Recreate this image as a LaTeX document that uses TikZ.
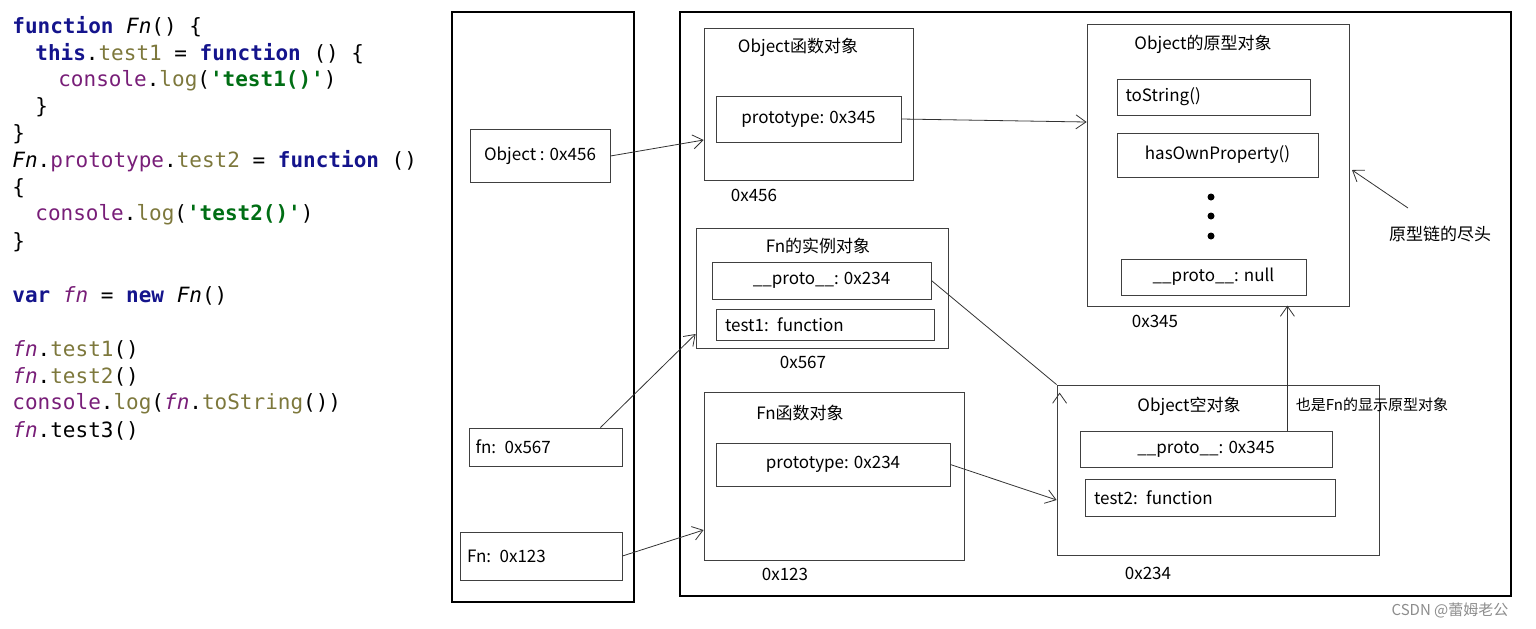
\documentclass[tikz,border=0pt]{standalone}
\usepackage{fontspec}
\setmainfont{Noto Sans CJK SC}
\newfontfamily\codefont{DejaVu Sans Mono}
\usetikzlibrary{arrows.meta}
\definecolor{kwblue}{RGB}{20,20,140}
\definecolor{idpurple}{RGB}{120,30,120}
\definecolor{fnolive}{RGB}{125,120,60}
\definecolor{strgreen}{RGB}{0,110,20}
\newcommand{\kw}[1]{\textcolor{kwblue}{\bfseries #1}}
\newcommand{\pu}[1]{\textcolor{idpurple}{#1}}
\newcommand{\ol}[1]{\textcolor{fnolive}{#1}}
\newcommand{\st}[1]{\textcolor{strgreen}{\bfseries #1}}
\tikzset{%
  every codeline/.style={
    anchor=west,
    inner sep=0pt,
    font=\codefont\fontsize{10.5}{12}\selectfont
  },
  every frame/.style={
    draw,
    line width=1.4pt
  },
  every obj/.style={
    draw=black!75,
    inner sep=0pt,
    font=\fontsize{8.5}{10}\selectfont
  },
  every label/.style={
    font=\fontsize{8.5}{10}\selectfont
  },
  ptr/.style={
    -{Straight Barb[length=5pt,width=7pt]},
    black!80
  },
}

\begin{document}
\begin{tikzpicture}[x=0.5pt, y=-0.5pt]
\useasboundingbox (0,0) rectangle (1536,628);

% Code
\foreach \t [count=\y] in {%
  {\kw{function} \textit{Fn}() \{},
  {\hspace{2ex}\kw{this}.\ol{test1} = \kw{function} () \{},
  {\hspace{4ex}\pu{console}.\ol{log}(\st{'test1()'})},
  {\hspace{2ex}\}},
  {\}},
  {\textit{Fn}.\pu{prototype}.\ol{test2} = \kw{function} ()},
  {\{},
  {\hspace{2ex}\pu{console}.\ol{log}(\st{'test2()'})},
  {\}},
  {},
  {\kw{var} \pu{\textit{fn}} = \kw{new} \textit{Fn}()},
  {},
  {\pu{\textit{fn}}.\ol{test1}()},
  {\pu{\textit{fn}}.\ol{test2}()},
  {\pu{console}.\ol{log}(\pu{\textit{fn}}.\ol{toString}())},
  {\pu{\textit{fn}}.test3()}}
  \node [every codeline/.try] (code-\y) at (12,\y*26.9) {\t};

% Frames
\draw [every frame/.try] (452,12) rectangle (634,602);
\draw [every frame/.try] (680,12) rectangle (1511,596);

% Stack variables
\node [every obj/.try, minimum width=70pt, minimum height=26.5pt] (var-obj) at (540,156) {Object : 0x456};
\node [every obj/.try, minimum width=76.5pt, minimum height=19pt, text width=70pt] (var-fn) at (545.5,447) {fn: 0x567};
\node [every obj/.try, minimum width=81pt, minimum height=24pt, text width=74pt] (var-Fn) at (541,556) {Fn: 0x123};

% Object function object
\node [every obj/.try, minimum width=104.5pt, minimum height=76pt] (obj-fun) at (808.5,104) {};
\node [every label/.try] at (798,47) {Object函数对象};
\node [every obj/.try, minimum width=92.5pt, minimum height=23pt] (obj-fun-p) at (808.5,119) {prototype: 0x345};
\node [every label/.try] at (754,195) {0x456};

% Fn instance
\node [every obj/.try, minimum width=126pt, minimum height=60pt] (inst) at (822,288) {};
\node [every label/.try] at (818,246) {Fn的实例对象};
\node [every obj/.try, minimum width=109.5pt, minimum height=18.5pt] (inst-p) at (821.5,280.5) {\_\_proto\_\_: 0x234};
\node [every obj/.try, minimum width=109pt, minimum height=15.5pt, text width=100pt] (inst-t) at (825,324.5) {test1: function};
\node [every label/.try] at (803,362) {0x567};

% Fn function object
\node [every obj/.try, minimum width=130pt, minimum height=84pt] (Fn-fun) at (834,476) {};
\node [every label/.try] at (800,413) {Fn函数对象};
\node [every obj/.try, minimum width=117pt, minimum height=21.5pt] (Fn-fun-p) at (833,464.5) {prototype: 0x234};
\node [every label/.try] at (785,574) {0x123};

% Object prototype object
\node [every obj/.try, minimum width=131pt, minimum height=141pt] (obj-pro) at (1218,165) {};
\node [every label/.try] at (1203,44) {Object的原型对象};
\node [every obj/.try, minimum width=96.5pt, minimum height=18pt, text width=88pt] (obj-pro-s) at (1213.5,97) {toString()};
\node [every obj/.try, minimum width=100.5pt, minimum height=22pt] (obj-pro-h) at (1217.5,155) {hasOwnProperty()};
\foreach \d in {197,216,236}
  \fill (1211,\d) circle (3.5);
\node [every obj/.try, minimum width=92.5pt, minimum height=18pt] (obj-pro-n) at (1213.5,277) {\_\_proto\_\_: null};
\node [every label/.try] at (1155,321) {0x345};

% Object empty object
\node [every obj/.try, minimum width=161pt, minimum height=85pt] (obj-emp) at (1218,470) {};
\node [every label/.try] at (1189,406) {Object空对象};
\node [every obj/.try, minimum width=126pt, minimum height=18pt] (obj-emp-p) at (1206,449) {\_\_proto\_\_: 0x345};
\node [every obj/.try, minimum width=125pt, minimum height=18.5pt, text width=116pt] (obj-emp-t) at (1210,497.5) {test2: function};
\node [every label/.try] at (1148,573) {0x234};

% Notes
\node [every label/.try] (end-note) at (1440,234) {原型链的尽头};
\node [every label/.try, font=\fontsize{7.5}{9}\selectfont] (emp-note) at (1372,405) {也是Fn的显示原型对象};
\coordinate (end-tail) at (1408,208);
\coordinate (end-tip) at (1352,170);
\node [font=\fontsize{7.5}{9}\selectfont, text=black!45] (mark) at (1450,610) {CSDN @蕾姆老公};

% Pointers
\draw [ptr] (var-obj.east) -- (obj-fun.west |- 0,140);
\draw [ptr] (obj-fun-p.east) -- (obj-pro.west |- 0,122);
\draw [ptr] (var-fn.north east) ++(-22,0) -- (inst.west |- 0,334);
\draw [ptr] (var-Fn.east) -- (Fn-fun.west |- 0,530);
\draw [ptr] (inst-p.east) -- (obj-emp.north west) ++(3,8);
\draw [ptr] (Fn-fun-p.east) -- (obj-emp.west |- 0,500);
\draw [ptr] (obj-emp-p.north east) ++(-45,0) -- ++(0,-125);
\draw [ptr] (end-tail) -- (end-tip);

\end{tikzpicture}
\end{document}
